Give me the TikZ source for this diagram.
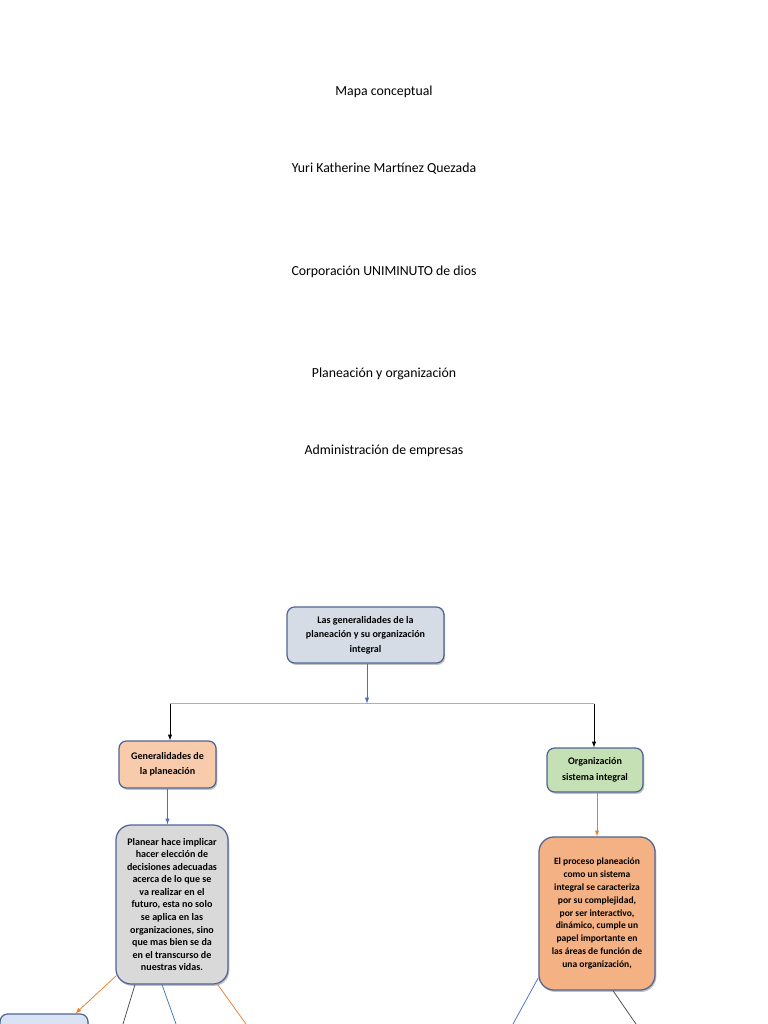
\documentclass[tikz,border=0pt]{standalone}
\usepackage{fontspec}
\setmainfont{Carlito}
\usetikzlibrary{arrows,shadows}
\definecolor{boxline}{RGB}{80,100,150}
\definecolor{topfill}{RGB}{214,220,229}
\definecolor{peach}{RGB}{248,203,173}
\definecolor{leaf}{RGB}{197,224,180}
\definecolor{ash}{RGB}{217,217,217}
\definecolor{tang}{RGB}{244,177,131}
\definecolor{sky}{RGB}{218,227,243}
\definecolor{lineor}{RGB}{237,125,49}
\definecolor{lineblue}{RGB}{68,114,196}

\begin{document}
\begin{tikzpicture}[x=0.797pt,y=-0.797pt,
   title/.style={font=\fontsize{11}{13}\selectfont},
   card/.style={draw=boxline,line width=1pt,rounded corners=6pt,align=center,inner sep=0pt,
      font=\fontsize{8}{11.5}\selectfont\bfseries,
      drop shadow={shadow xshift=1pt,shadow yshift=-1.5pt,opacity=0.35,fill=black!70}},
   tall/.style={card,rounded corners=12pt,font=\fontsize{8}{10}\selectfont\bfseries},
   link/.style={line width=0.6pt}]
   \useasboundingbox (0,0) rectangle (768,1024);
   \clip (0,0) rectangle (768,1024);
   \node[title] (t1) at (384,92) {Mapa conceptual};
   \node[title] (t2) at (384,169) {Yuri Katherine Martínez Quezada};
   \node[title] (t3) at (384,272) {Corporación UNIMINUTO de dios};
   \node[title] (t4) at (384,374) {Planeación y organización};
   \node[title] (t5) at (384,451) {Administración de empresas};

   \node[card,fill=topfill,minimum width=125pt,minimum height=44.6pt] (top) at (365.5,635)
      {Las generalidades de la\\planeación y su organización\\integral};
   \node[card,fill=peach,minimum width=77.3pt,minimum height=37.5pt,font=\fontsize{8}{12}\selectfont\bfseries] (gen) at (167.5,764.5)
      {Generalidades de\\la planeación};
   \node[card,fill=leaf,minimum width=76.5pt,minimum height=35pt,font=\fontsize{8}{12.5}\selectfont\bfseries] (org) at (595,770)
      {Organización\\sistema integral};
   \node[tall,fill=ash,minimum width=89.3pt,minimum height=126.7pt] (plan) at (172,904.5)
      {Planear hace implicar\\hacer elección de\\decisiones adecuadas\\acerca de lo que se\\va realizar en el\\futuro, esta no solo\\se aplica en las\\organizaciones, sino\\que mas bien se da\\en el transcurso de\\nuestras vidas.};
   \node[tall,fill=tang,minimum width=92.5pt,minimum height=122pt,font=\fontsize{7.6}{10.3}\selectfont\bfseries] (proc) at (597,913.5)
      {El proceso planeación\\como un sistema\\integral se caracteriza\\por su complejidad,\\por ser interactivo,\\dinámico, cumple un\\papel importante en\\las áreas de función de\\una organización,};
   \node[card,fill=sky,minimum width=70pt,minimum height=44.6pt] (low) at (44,1042) {};

   \coordinate (mid) at (367,703.5);
   \coordinate (jl) at (170,703.5);
   \coordinate (jr) at (594,703.5);
   \coordinate (e1) at (123,1024);
   \coordinate (e2) at (176,1024);
   \coordinate (e3) at (246,1024);
   \coordinate (e4) at (513,1024);
   \coordinate (e5) at (636,1024);

   \draw[lineor!75,line width=1.2pt] (jl) -- (jr);
   \draw[link,lineblue,-latex] (top.south -| mid) -- (mid);
   \draw[link,-latex] (jl) -- (jl |- gen.north);
   \draw[link,-latex] (jr) -- (jr |- org.north);
   \draw[link,lineblue,-latex] (gen.south) -- (plan.north -| gen.south);
   \draw[link,lineor,-latex] (org.south -| proc.north) -- (proc.north);
   \draw[link,lineor,-latex] ([shift={(1,-9)}]plan.south west) -- ([xshift=-13*0.797pt]low.north east);
   \draw[link,black!70] ([xshift=-37*0.797pt]plan.south) -- (e1);
   \draw[link,lineblue] ([xshift=-10*0.797pt]plan.south) -- (e2);
   \draw[link,lineor] ([shift={(45,-1)}]plan.south) -- (e3);
   \draw[link,lineblue] ([shift={(0,-13)}]proc.south west) -- (e4);
   \draw[link,black!70] ([xshift=16*0.797pt]proc.south) -- (e5);
\end{tikzpicture}
\end{document}
